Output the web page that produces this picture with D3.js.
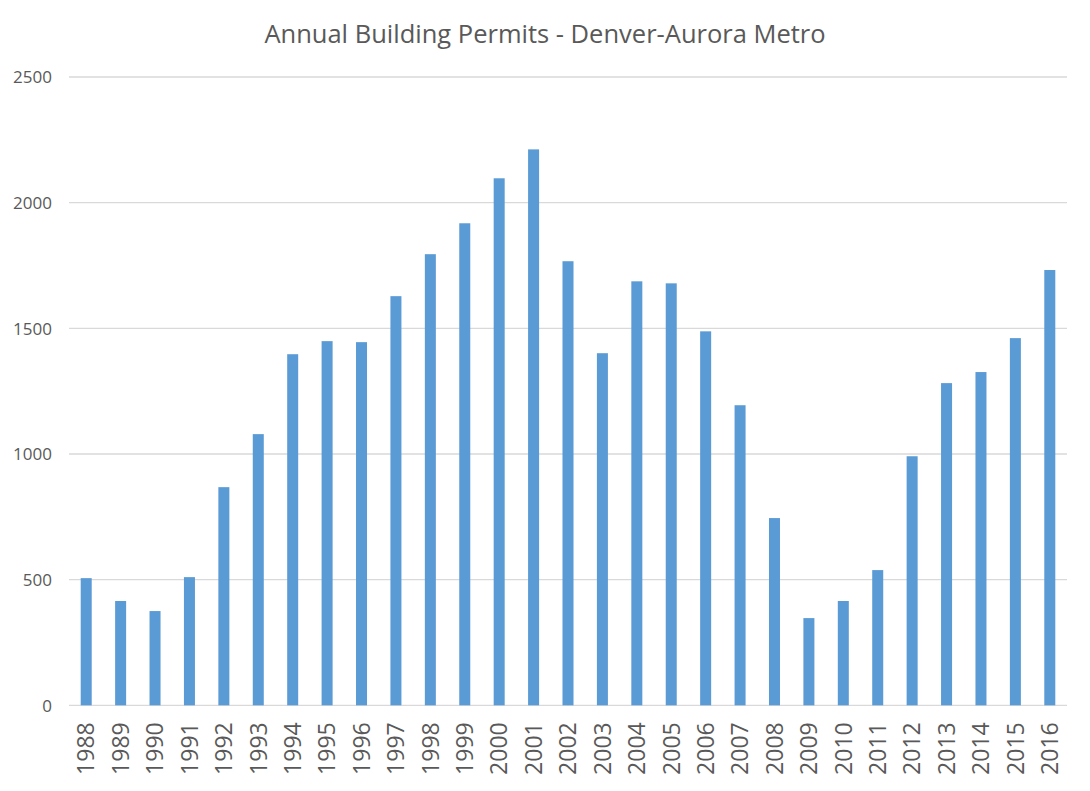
<!DOCTYPE html>
<html>
<head>
<meta charset="utf-8">
<script src="https://cdn.jsdelivr.net/npm/d3@7"></script>
<style>
  body { margin: 0; background: #fff; }
  text { font-family: "Open Sans", "Noto Sans", sans-serif; fill: #595959; }
</style>
</head>
<body>
<div class="container"></div>
<script>
const years = ["1988","1989","1990","1991","1992","1993","1994","1995","1996","1997",
  "1998","1999","2000","2001","2002","2003","2004","2005","2006","2007",
  "2008","2009","2010","2011","2012","2013","2014","2015","2016"];
const permits = [506, 415, 375, 510, 868, 1079, 1397, 1449, 1445, 1628,
  1795, 1918, 2097, 2212, 1767, 1401, 1687, 1679, 1488, 1194,
  745, 347, 415, 538, 991, 1282, 1326, 1461, 1732];
const yTicks = [0, 500, 1000, 1500, 2000, 2500];
const title = "Annual Building Permits - Denver-Aurora Metro";

const width = 1090, height = 791;
const margin = { top: 77, right: 23, bottom: 86, left: 69 };

const svg = d3.select(".container")
  .append("svg")
  .attr("width", width)
  .attr("height", height);

// 标题
svg.append("text")
  .attr("x", 545)
  .attr("y", 43)
  .attr("text-anchor", "middle")
  .style("font-size", "25.5px")
  .text(title);

const x = d3.scaleBand()
  .domain(years)
  .range([margin.left, width - margin.right])
  .paddingInner(0.68)
  .paddingOuter(0.34);

const y = d3.scaleLinear()
  .domain([0, 2500])
  .range([height - margin.bottom + 0.3, margin.top]);

// 网格线
svg.append("g")
  .selectAll("line")
  .data(yTicks)
  .join("line")
  .attr("x1", margin.left)
  .attr("x2", width - margin.right)
  .attr("y1", d => y(d))
  .attr("y2", d => y(d))
  .attr("stroke", "#d9d9d9")
  .attr("stroke-width", 1.3);

// y轴
const yAxis = svg.append("g")
  .attr("transform", `translate(${margin.left - 17},0)`)
  .call(d3.axisLeft(y).tickValues(yTicks).tickFormat(d3.format("d")).tickSize(0).tickPadding(0));
yAxis.select(".domain").remove();
yAxis.selectAll("text")
  .style("font-size", "17px")
  .attr("fill", "#595959")
  .attr("dy", "0.35em");

// 柱子
svg.append("g")
  .selectAll("rect")
  .data(permits)
  .join("rect")
  .attr("x", (d, i) => x(years[i]))
  .attr("width", x.bandwidth())
  .attr("y", d => y(d))
  .attr("height", d => y(0) - y(d))
  .attr("fill", "#5b9bd5");

// x轴标签, 竖排
const xAxis = svg.append("g")
  .attr("transform", `translate(0,${y(0)})`)
  .call(d3.axisBottom(x).tickSize(0).tickPadding(0));
xAxis.select(".domain").remove();
xAxis.selectAll("text")
  .style("font-size", "23px")
  .attr("fill", "#595959")
  .attr("text-anchor", "end")
  .attr("transform", "rotate(-90)")
  .attr("x", -17)
  .attr("y", 0)
  .attr("dy", "0.36em");
</script>
</body>
</html>
